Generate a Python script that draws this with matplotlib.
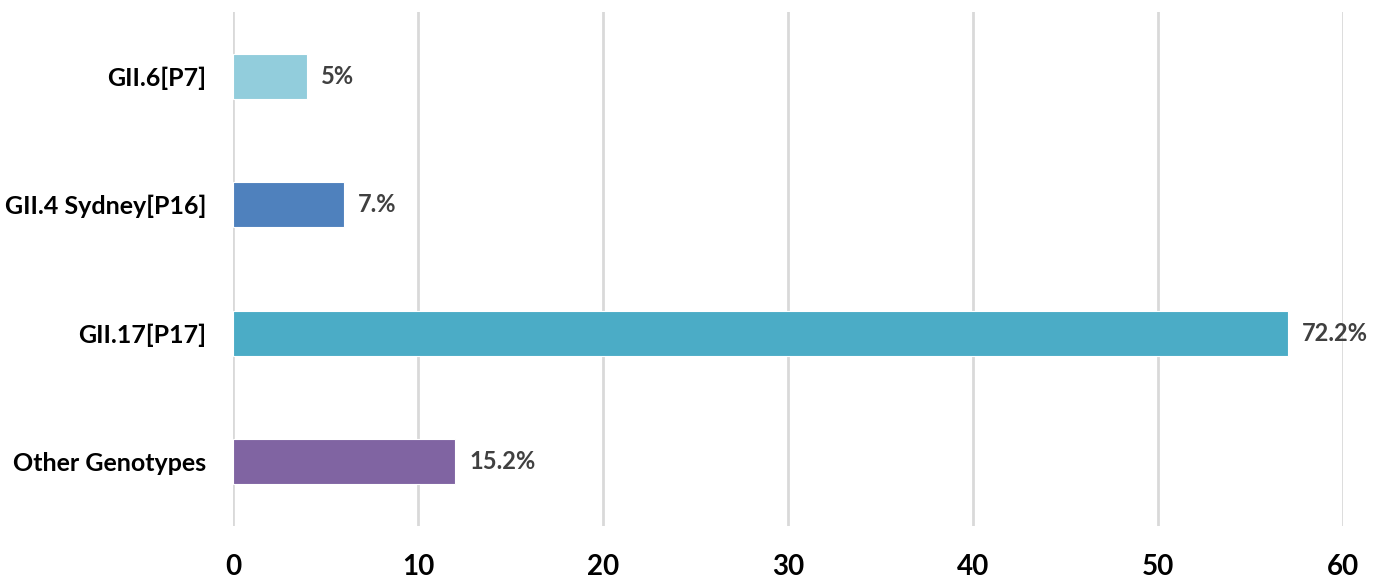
import matplotlib
matplotlib.use("Agg")
import matplotlib.pyplot as plt

categories = ["GII.6[P7]", "GII.4 Sydney[P16]", "GII.17[P17]", "Other Genotypes"]
values = [4, 6, 57, 12]
labels = ["5%", "7.%", "72.2%", "15.2%"]
colors = ["#92CDDC", "#4F81BD", "#4BACC6", "#8064A2"]
xticks = [0, 10, 20, 30, 40, 50, 60]

plt.rcParams['font.family'] = ['Lato', 'DejaVu Sans']

fig = plt.figure(figsize=(13.73, 5.82), dpi=100)
ax = fig.add_axes([233/1373, 1-526/582, (1343-233)/1373, (526-12)/582])

ypos = list(range(len(categories)))
ax.barh(ypos, values, height=0.35, color=colors, edgecolor="white", linewidth=0.8, zorder=3)
for y, v, t in zip(ypos, values, labels):
    ax.annotate(t, xy=(v, y), xytext=(14, 0), textcoords="offset pixels",
                ha="left", va="center", fontsize=17, fontweight="bold", color="#404040")

ax.set_yticks(ypos)
ax.set_yticklabels(categories, fontsize=18, fontweight="bold", color="black")
ax.set_ylim(len(categories)-0.5, -0.5)
ax.set_xlim(0, 60)
ax.set_xticks(xticks)
ax.set_xticklabels([str(x) for x in xticks], fontsize=20, fontweight="bold", color="black")
ax.tick_params(axis="both", length=0)
ax.tick_params(axis="x", pad=20)
ax.tick_params(axis="y", pad=19)
ax.grid(axis="x", color="#D9D9D9", linewidth=2, zorder=0)
for s in ax.spines.values():
    s.set_visible(False)

fig.savefig("out.png", dpi=100, facecolor="white")
